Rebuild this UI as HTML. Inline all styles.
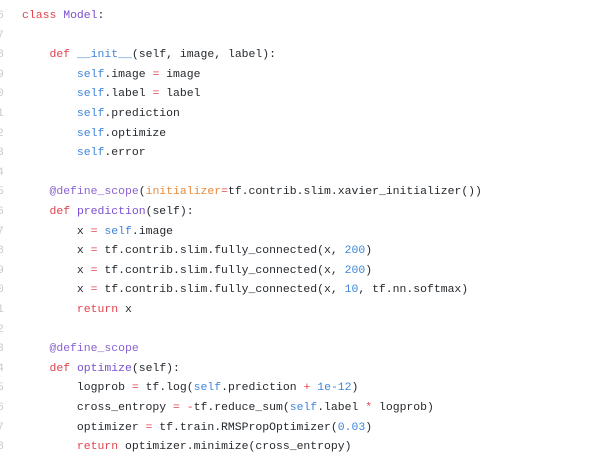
<!DOCTYPE html>
<html><head><style>
body{margin:0;width:600px;height:461px;background:#fff;overflow:hidden;position:relative;font-family:"Liberation Mono",monospace;font-size:11.45px;color:#24292e}
.l{position:absolute;left:22px;white-space:pre;line-height:20px;height:20px}
.n{position:absolute;left:-3px;color:#c8cbd0;white-space:pre;line-height:20px}
.k{color:#e0434f}.c{color:#7a4fcf}.s{color:#3f86d9}.o{color:#e98a3c}.d{color:#8b63cf}.m{color:#3f86d9}
</style></head><body>
<div id="c"></div>
<script>
var lines=[
'<span class="k">class</span> <span class="c">Model</span>:',
'',
'    <span class="k">def</span> <span class="s">__init__</span>(self, image, label):',
'        <span class="s">self</span>.image <span class="k">=</span> image',
'        <span class="s">self</span>.label <span class="k">=</span> label',
'        <span class="s">self</span>.prediction',
'        <span class="s">self</span>.optimize',
'        <span class="s">self</span>.error',
'',
'    <span class="d">@define_scope</span>(<span class="o">initializer</span><span class="k">=</span>tf.contrib.slim.xavier_initializer())',
'    <span class="k">def</span> <span class="c">prediction</span>(self):',
'        x <span class="k">=</span> <span class="s">self</span>.image',
'        x <span class="k">=</span> tf.contrib.slim.fully_connected(x, <span class="m">200</span>)',
'        x <span class="k">=</span> tf.contrib.slim.fully_connected(x, <span class="m">200</span>)',
'        x <span class="k">=</span> tf.contrib.slim.fully_connected(x, <span class="m">10</span>, tf.nn.softmax)',
'        <span class="k">return</span> x',
'',
'    <span class="d">@define_scope</span>',
'    <span class="k">def</span> <span class="c">optimize</span>(self):',
'        logprob <span class="k">=</span> tf.log(<span class="s">self</span>.prediction <span class="k">+</span> <span class="m">1e-12</span>)',
'        cross_entropy <span class="k">=</span> <span class="k">-</span>tf.reduce_sum(<span class="s">self</span>.label <span class="k">*</span> logprob)',
'        optimizer <span class="k">=</span> tf.train.RMSPropOptimizer(<span class="m">0.03</span>)',
'        <span class="k">return</span> optimizer.minimize(cross_entropy)'];
var h='';
for(var i=0;i<lines.length;i++){var t=6+i*19.6;
h+='<div class="n" style="top:'+t+'px">'+((6+i)%10)+'</div><div class="l" style="top:'+t+'px">'+lines[i]+'</div>';}
document.getElementById('c').innerHTML=h;
</script>
</body></html>
